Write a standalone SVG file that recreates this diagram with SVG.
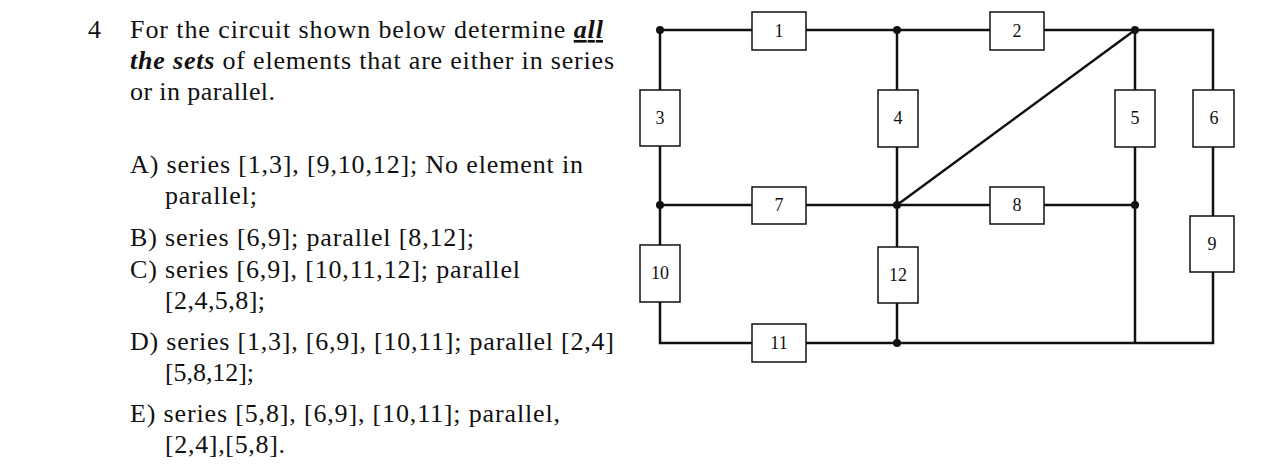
<svg xmlns="http://www.w3.org/2000/svg" width="1276" height="474" viewBox="0 0 1276 474">
<style>
.t{font-family:"Liberation Serif",serif;font-size:26px;fill:#111}
.w{stroke:#111;stroke-width:2.5;fill:none}
.b{fill:#fff;stroke:#111;stroke-width:1.5}
.l{font-family:"Liberation Serif",serif;font-size:18px;fill:#111;text-anchor:middle}
.d{fill:#111}
</style>
<rect width="1276" height="474" fill="#fff"/>
<g id="question">
<text class="t" x="88" y="38">4</text>
<text class="t" x="130" y="38" textLength="473" lengthAdjust="spacing">For the circuit shown below determine <tspan font-weight="bold" font-style="italic" text-decoration="underline">all</tspan></text>
<text class="t" x="130" y="69" textLength="484" lengthAdjust="spacing"><tspan font-weight="bold" font-style="italic">the sets</tspan> of elements that are either in series</text>
<text class="t" x="130" y="100" textLength="145" lengthAdjust="spacing">or in parallel.</text>
<text class="t" x="130" y="173" textLength="453" lengthAdjust="spacing">A) series [1,3], [9,10,12]; No element in</text>
<text class="t" x="165" y="204" textLength="92" lengthAdjust="spacing">parallel;</text>
<text class="t" x="130" y="246" textLength="344" lengthAdjust="spacing">B) series [6,9]; parallel [8,12];</text>
<text class="t" x="130" y="278" textLength="390" lengthAdjust="spacing">C) series [6,9], [10,11,12]; parallel</text>
<text class="t" x="165" y="309" textLength="100" lengthAdjust="spacing">[2,4,5,8];</text>
<text class="t" x="130" y="350" textLength="484" lengthAdjust="spacing">D) series [1,3], [6,9], [10,11]; parallel [2,4]</text>
<text class="t" x="165" y="381" textLength="89" lengthAdjust="spacing">[5,8,12];</text>
<text class="t" x="130" y="422" textLength="430" lengthAdjust="spacing">E) series [5,8], [6,9], [10,11]; parallel,</text>
<text class="t" x="165" y="453" textLength="120" lengthAdjust="spacing">[2,4],[5,8].</text>
</g>
<g id="connectors">
<path class="w" d="M660 30H1213V343H660Z"/>
<path class="w" d="M660 205H1135"/>
<path class="w" d="M897 30V343"/>
<path class="w" d="M1135 30V343"/>
<path class="w" d="M897 205L1135 30"/>
</g>
<g id="dots">
<circle class="d" cx="660" cy="30" r="4"/><circle class="d" cx="897" cy="30" r="4"/><circle class="d" cx="1135" cy="30" r="4"/>
<circle class="d" cx="660" cy="205" r="4"/><circle class="d" cx="897" cy="205" r="4"/><circle class="d" cx="1135" cy="205" r="4"/>
<circle class="d" cx="897" cy="343" r="4"/>
</g>
<g id="n1"><rect class="b" x="752" y="12" width="54" height="38"/><text class="l" x="779" y="37">1</text></g>
<g id="n2"><rect class="b" x="990" y="12" width="54" height="38"/><text class="l" x="1017" y="37">2</text></g>
<g id="n3"><rect class="b" x="640" y="90" width="40" height="56"/><text class="l" x="660" y="124">3</text></g>
<g id="n4"><rect class="b" x="878" y="90" width="40" height="57"/><text class="l" x="898" y="124">4</text></g>
<g id="n5"><rect class="b" x="1115" y="90" width="40" height="57"/><text class="l" x="1135" y="124">5</text></g>
<g id="n6"><rect class="b" x="1193" y="90" width="41" height="57"/><text class="l" x="1214" y="124">6</text></g>
<g id="n7"><rect class="b" x="752" y="187" width="54" height="37"/><text class="l" x="779" y="211">7</text></g>
<g id="n8"><rect class="b" x="990" y="187" width="54" height="37"/><text class="l" x="1017" y="211">8</text></g>
<g id="n9"><rect class="b" x="1190" y="216" width="44" height="56"/><text class="l" x="1212" y="250">9</text></g>
<g id="n10"><rect class="b" x="640" y="245" width="40" height="57"/><text class="l" x="660" y="279">10</text></g>
<g id="n12"><rect class="b" x="878" y="247" width="40" height="56"/><text class="l" x="898" y="281">12</text></g>
<g id="n11"><rect class="b" x="752" y="324" width="54" height="38"/><text class="l" x="779" y="349">11</text></g>
</svg>
